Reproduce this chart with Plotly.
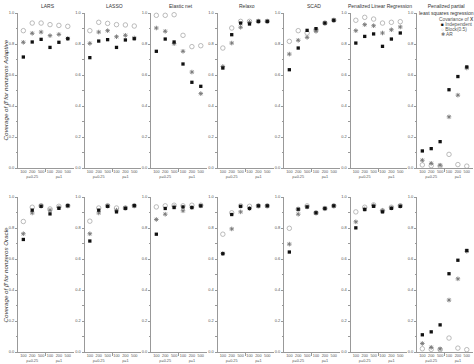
import plotly.graph_objects as go

methods = ["LARS", "LASSO", "Elastic net", "Relaxo", "SCAD",
           "Penalized Linear Regression", "Penalized partial<br>least squares regression"]
x_pos = [1, 2, 3, 4, 5, 6]
tick_labels = ["100", "200<br>ρ=0.25", "500", "100", "200<br>ρ=1", "500"]
series_names = ["Independent", "Block(0.5)", "AR"]
row_titles = ["Coverage of β̂ for nonzeros Adaptive", "Coverage of β̂ for nonzeros Oracle"]

# Adaptive (top row)
adaptive_independent = [
    [0.716, 0.813, 0.830, 0.778, 0.811, 0.834],
    [0.712, 0.819, 0.828, 0.778, 0.826, 0.834],
    [0.753, 0.832, 0.813, 0.671, 0.553, 0.527],
    [0.645, 0.860, 0.935, 0.929, 0.946, 0.946],
    [0.634, 0.774, 0.888, 0.899, 0.935, 0.953],
    [0.806, 0.849, 0.865, 0.785, 0.832, 0.871],
    [0.110, 0.125, 0.170, 0.505, 0.590, 0.652],
]
adaptive_block = [
    [0.886, 0.935, 0.935, 0.925, 0.920, 0.914],
    [0.886, 0.940, 0.933, 0.925, 0.923, 0.916],
    [0.985, 0.985, 0.989, 0.856, 0.783, 0.789],
    [0.774, 0.903, 0.946, 0.946, 0.946, 0.946],
    [0.817, 0.886, 0.871, 0.892, 0.935, 0.953],
    [0.953, 0.972, 0.961, 0.935, 0.940, 0.944],
    [0.020, 0.015, 0.012, 0.088, 0.022, 0.012],
]
adaptive_ar = [
    [0.811, 0.869, 0.877, 0.854, 0.862, 0.836],
    [0.804, 0.877, 0.886, 0.847, 0.856, 0.839],
    [0.903, 0.882, 0.802, 0.753, 0.619, 0.480],
    [0.655, 0.806, 0.908, 0.940, 0.946, 0.946],
    [0.735, 0.824, 0.843, 0.882, 0.935, 0.953],
    [0.886, 0.925, 0.918, 0.871, 0.892, 0.910],
    [0.050, 0.030, 0.018, 0.330, 0.470, 0.645],
]
# Oracle (bottom row)
oracle_independent = [
    [0.726, 0.915, 0.940, 0.891, 0.927, 0.944],
    [0.716, 0.915, 0.940, 0.904, 0.927, 0.944],
    [0.760, 0.926, 0.932, 0.936, 0.932, 0.943],
    [0.634, 0.887, 0.940, 0.926, 0.943, 0.943],
    [0.645, 0.921, 0.936, 0.898, 0.926, 0.943],
    [0.801, 0.919, 0.940, 0.904, 0.927, 0.940],
    [0.111, 0.130, 0.175, 0.505, 0.592, 0.655],
]
oracle_block = [
    [0.842, 0.934, 0.944, 0.923, 0.940, 0.944],
    [0.844, 0.929, 0.944, 0.929, 0.929, 0.944],
    [0.936, 0.943, 0.947, 0.943, 0.947, 0.947],
    [0.760, 0.898, 0.943, 0.940, 0.943, 0.943],
    [0.798, 0.921, 0.943, 0.898, 0.926, 0.943],
    [0.904, 0.934, 0.949, 0.912, 0.934, 0.944],
    [0.021, 0.017, 0.015, 0.090, 0.025, 0.015],
]
oracle_ar = [
    [0.763, 0.897, 0.942, 0.915, 0.932, 0.944],
    [0.763, 0.897, 0.942, 0.915, 0.929, 0.944],
    [0.855, 0.889, 0.938, 0.911, 0.932, 0.943],
    [0.636, 0.794, 0.904, 0.926, 0.943, 0.943],
    [0.696, 0.889, 0.936, 0.898, 0.926, 0.943],
    [0.840, 0.923, 0.944, 0.912, 0.929, 0.942],
    [0.055, 0.030, 0.020, 0.335, 0.472, 0.650],
]

W, H = 474, 364
FONT = "Liberation Sans"
TXT = "#555555"
AX = "#999999"

rows = [
    (adaptive_independent, adaptive_block, adaptive_ar, (13, 168)),
    (oracle_independent, oracle_block, oracle_ar, (197, 352)),
]

fig = go.Figure()
layout = {}
annotations = []
k = 0
for r, (ind, blk, ar, (ytop, ybot)) in enumerate(rows):
    ydom = [1 - ybot / H, 1 - ytop / H]
    for c in range(7):
        k += 1
        xa = "x" if k == 1 else f"x{k}"
        ya = "y" if k == 1 else f"y{k}"
        xl = 18 + 66.5 * c
        xdom = [xl / W, (xl + 56) / W]
        fig.add_trace(go.Scatter(x=x_pos, y=blk[c], mode="markers", xaxis=xa, yaxis=ya,
                                 name=series_names[1], showlegend=False, cliponaxis=False,
                                 marker=dict(symbol="circle-open", size=4.5, color="#aaaaaa",
                                             line=dict(width=0.8, color="#aaaaaa"))))
        fig.add_trace(go.Scatter(x=x_pos, y=ar[c], mode="markers", xaxis=xa, yaxis=ya,
                                 name=series_names[2], showlegend=False, cliponaxis=False,
                                 marker=dict(symbol="asterisk-open", size=3.8, color="#777777",
                                             line=dict(width=0.9, color="#777777"))))
        fig.add_trace(go.Scatter(x=x_pos, y=ind[c], mode="markers", xaxis=xa, yaxis=ya,
                                 name=series_names[0], showlegend=False, cliponaxis=False,
                                 marker=dict(symbol="square", size=3.3, color="#111111")))
        layout["xaxis" if k == 1 else f"xaxis{k}"] = dict(
            domain=xdom, anchor=ya, range=[0.4, 6.7], tickmode="array",
            tickvals=x_pos, ticktext=tick_labels, ticks="", tickangle=0,
            automargin=False, showgrid=False, zeroline=False,
            showline=True, linecolor=AX, linewidth=0.8,
            tickfont=dict(family=FONT, size=3.8, color=TXT),
            minor=dict(tickmode="array", tickvals=[3.5], ticks="outside", ticklen=3,
                       tickcolor=AX, tickwidth=0.6))
        layout["yaxis" if k == 1 else f"yaxis{k}"] = dict(
            domain=ydom, anchor=xa, range=[0, 1.0], tickmode="array",
            tickvals=[0, 0.2, 0.4, 0.6, 0.8, 1.0],
            ticktext=["0.0", "0.2", "0.4", "0.6", "0.8", "1.0"],
            ticks="outside", ticklen=2, tickcolor=AX, tickwidth=0.6, automargin=False,
            showgrid=False, zeroline=False, showline=True, linecolor=AX, linewidth=0.8,
            tickfont=dict(family=FONT, size=4, color=TXT),
            minor=dict(dtick=0.1, ticks="outside", ticklen=1.2, tickcolor=AX, tickwidth=0.5))
        if r == 0:
            annotations.append(dict(text=methods[c], xref="paper", yref="paper",
                                    x=(xdom[0] + xdom[1]) / 2 + 0.004,
                                    y=1 - 1.5 / H, xanchor="center", yanchor="top",
                                    showarrow=False,
                                    font=dict(family=FONT, size=5, color="#333333")))
    annotations.append(dict(text="<i>" + row_titles[r] + "</i>", xref="paper", yref="paper",
                            x=5 / W, y=1 - (ytop + ybot) / 2 / H, textangle=-90,
                            xanchor="center", yanchor="middle", showarrow=False,
                            font=dict(family=FONT, size=6.2, color="#333333")))

# legend (inside the top-right panel)
annotations.append(dict(text="Covariance of <b>X</b>", xref="paper", yref="paper",
                        x=437 / W, y=1 - 19 / H, xanchor="left", yanchor="middle",
                        showarrow=False, font=dict(family=FONT, size=4.8, color=TXT)))
legend_items = [
    ("<span style='color:#111111'>■</span> " + series_names[0], 24.5),
    ("<span style='color:#aaaaaa'>○</span> " + series_names[1], 29.5),
    ("<span style='color:#777777'>✱</span> " + series_names[2], 34.5),
]
for txt, yy in legend_items:
    annotations.append(dict(text=txt, xref="paper", yref="paper",
                            x=439 / W, y=1 - yy / H, xanchor="left", yanchor="middle",
                            showarrow=False, font=dict(family=FONT, size=4.8, color=TXT)))

fig.update_layout(**layout)
fig.update_layout(width=W, height=H, margin=dict(l=0, r=0, t=0, b=0, autoexpand=False),
                  paper_bgcolor="white", plot_bgcolor="white",
                  showlegend=False, annotations=annotations)
fig.write_html("out.html", config={"displayModeBar": False},
               post_script="document.body.style.margin='0px';document.body.style.overflow='hidden';")
